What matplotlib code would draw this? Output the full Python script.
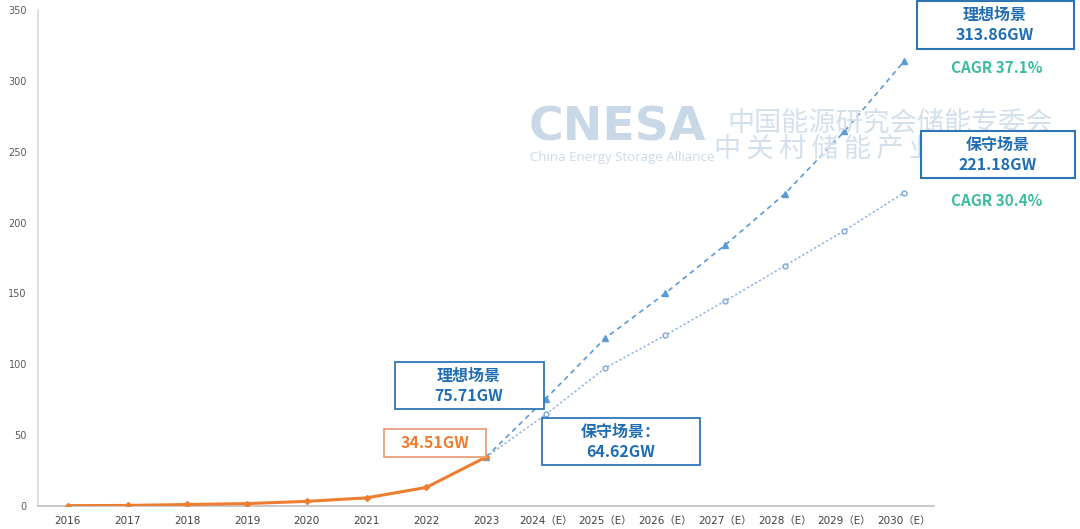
import matplotlib
matplotlib.use("Agg")
import matplotlib.pyplot as plt
from matplotlib.patches import FancyBboxPatch

plt.rcParams['font.family'] = ['Noto Sans CJK SC', 'DejaVu Sans']

years = ["2016", "2017", "2018", "2019", "2020", "2021", "2022", "2023",
         "2024（E）", "2025（E）", "2026（E）", "2027（E）", "2028（E）", "2029（E）", "2030（E）"]
history = [0.24, 0.39, 1.07, 1.70, 3.28, 5.73, 13.1, 34.51]
ideal = [34.51, 75.71, 118.6, 150.0, 184.0, 220.2, 264.3, 313.86]
conservative = [34.51, 64.62, 97.4, 120.5, 144.6, 169.4, 194.3, 221.18]
yticks = [0, 50, 100, 150, 200, 250, 300, 350]

W, H = 1080, 529
fig = plt.figure(figsize=(10.8, 5.29), dpi=100)
ax = fig.add_axes([38 / W, 23 / H, (934 - 38) / W, (506 - 10) / H])

x_hist = list(range(len(history)))
x_fore = list(range(len(history) - 1, len(years)))

ax.plot(x_fore, ideal, color="#5b9bd5", lw=1.2, ls=(0, (3, 2.5)), marker="^",
        ms=4, mfc="#5b9bd5", mec="#5b9bd5", zorder=3)
ax.plot(x_fore, conservative, color="#8db3e2", lw=1.1, ls=(0, (1.5, 1.5)), marker="o",
        ms=3.5, mfc="white", mec="#7aa6d8", mew=1, zorder=3)
ax.plot(x_hist, history, color="#ed7d31", lw=2.2, marker="D", ms=3,
        mfc="#ed7d31", mec="#ed7d31", zorder=4)

ax.set_xlim(-0.5, len(years) - 0.5)
ax.set_ylim(0, 350)
ax.set_xticks(range(len(years)))
ax.set_xticklabels(years, fontsize=7.5, color="#404040",
                   family=['DejaVu Sans', 'Noto Sans CJK SC'])
ax.set_yticks(yticks)
ax.set_yticklabels([str(v) for v in yticks], fontsize=7, color="#595959",
                   family=['DejaVu Sans'])
ax.tick_params(length=0)
ax.tick_params(axis='x', pad=7)
ax.tick_params(axis='y', pad=8)
for s in ["top", "right"]:
    ax.spines[s].set_visible(False)
ax.spines["left"].set_color("#d9d9d9")
ax.spines["bottom"].set_color("#bfbfbf")
ax.spines["left"].set_linewidth(1.2)
ax.spines["bottom"].set_linewidth(1.2)

def px(x, y):
    return x / W, 1 - y / H

# Watermark
wm = "#c8d8e6"
fig.text(*px(529, 128), "CNESA", fontsize=34, fontweight="bold", color=wm,
         ha="left", va="center", family=["DejaVu Sans"], zorder=0)
fig.text(*px(530, 158), "China Energy Storage Alliance", fontsize=9.5, color="#cdd9e5",
         ha="left", va="center", family=["Open Sans", "DejaVu Sans"], zorder=0)
hs = "\u2009"
line2 = hs.join("中关村储能产业技术联盟")
fig.text(*px(890, 136), "中国能源研究会储能专委会\n" + line2, fontsize=19.5, color="#d3e0ec",
         ha="center", va="center", linespacing=0.95, multialignment="center", zorder=0)

def box(x0, y0, x1, y1, ec, lw=1.5):
    fx0, fy1 = px(x0, y0)
    fx1, fy0 = px(x1, y1)
    p = FancyBboxPatch((fx0, fy0), fx1 - fx0, fy1 - fy0, boxstyle="square,pad=0",
                       transform=fig.transFigure, fc="white", ec=ec, lw=lw, zorder=5)
    fig.add_artist(p)

blue = "#2e75b6"
btxt = "#1f6db4"
teal = "#3dbca0"
orange = "#ed7d31"

def label(cx, cy, s, color=btxt, size=11.5):
    fig.text(*px(cx, cy), s, fontsize=size, fontweight="bold", color=color,
             ha="center", va="center", linespacing=1.3, multialignment="center", zorder=6)

box(917, 1, 1074, 49, blue)
label(995, 25, "理想场景\n313.86GW")
label(997, 68, "CAGR 37.1%", teal, 11)

box(921, 131, 1075, 178, blue)
label(998, 155, "保守场景\n221.18GW")
label(997, 201, "CAGR 30.4%", teal, 11)

box(395, 362, 544, 409, blue, lw=1.3)
label(469, 386, "理想场景\n75.71GW")

box(542, 418, 700, 465, blue, lw=1.3)
label(621, 442, "保守场景：\n64.62GW")

box(384, 429, 486, 457, "#e8a07a", lw=1.3)
label(435, 443, "34.51GW", orange)

fig.savefig("out.png", dpi=100, facecolor="white")
